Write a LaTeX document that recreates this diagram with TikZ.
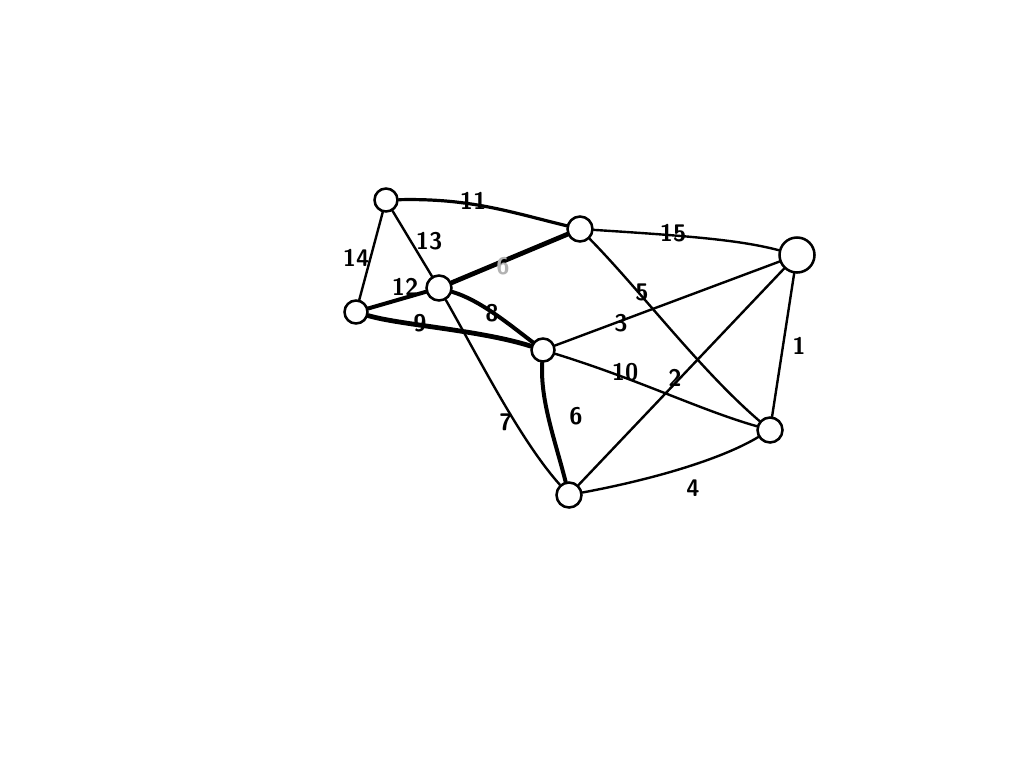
\documentclass[tikz,border=0pt]{standalone}
\begin{document}
\begin{tikzpicture}[x=0.75pt,y=-0.75pt,
  vtx/.style={circle,draw=black,line width=1.9pt,minimum size=#1*0.75pt,inner sep=0pt},
  edge/.style={line width=1.8pt,line cap=round},
  heavy/.style={line width=3pt,line cap=round},
  lbl/.style={font=\sffamily\bfseries\fontsize{18}{18}\selectfont,inner sep=0pt}]
\useasboundingbox (0,0) rectangle (1024,768);
\node[vtx=23] (A) at (386,200) {};
\node[vtx=25] (B) at (580,229) {};
\node[vtx=35] (C) at (797,255) {};
\node[vtx=23] (D) at (356,312) {};
\node[vtx=25] (E) at (439,288) {};
\node[vtx=23] (F) at (543,350) {};
\node[vtx=25] (G) at (770,430) {};
\node[vtx=25] (H) at (569,495) {};
% edges
\draw[edge,line width=2.4pt] (A) .. controls (470,198) and (510,212) .. (B);
\draw[edge] (A) -- (D);
\draw[edge] (A) -- (E);
\draw[edge] (B) .. controls (690,236) and (740,240) .. (C);
\draw[heavy,line width=3.6pt] (E) -- (B);
\draw[heavy] (D) -- (E);
\draw[heavy,line width=3.6pt] (D) .. controls (400,325) and (480,330) .. (F);
\draw[heavy] (E) .. controls (480,300) and (510,325) .. (F);
\draw[edge] (E) .. controls (480,360) and (520,440) .. (H);
\draw[heavy] (F) .. controls (540,400) and (555,440) .. (H);
\draw[edge] (F) -- (C);
\draw[edge] (F) .. controls (640,380) and (700,410) .. (G);
\draw[edge] (B) .. controls (640,290) and (700,370) .. (G);
\draw[edge] (C) -- (H);
\draw[edge] (C) -- (G);
\draw[edge] (H) .. controls (650,480) and (720,460) .. (G);
% labels
\node[lbl] (l11) at (473,201) {11};
\node[lbl] (l14) at (356,258) {14};
\node[lbl] (l13) at (429,241) {13};
\node[lbl] (l12) at (405,287) {12};
\node[lbl] (l9) at (420,323) {9};
\node[lbl] (l8) at (492,313) {8};
\node[lbl] (l3) at (621,323) {3};
\node[lbl] (l15) at (673,233) {15};
\node[lbl] (l5) at (642,292) {5};
\node[lbl] (l10) at (625,372) {10};
\node[lbl] (l2) at (675,378) {2};
\node[lbl] (l1) at (799,346) {1};
\node[lbl] (l7) at (506,422) {7};
\node[lbl] (l6) at (576,416) {6};
\node[lbl] (l4) at (693,488) {4};
\node[lbl,text=black!30] (lg) at (503,266) {6};
\end{tikzpicture}
\end{document}
